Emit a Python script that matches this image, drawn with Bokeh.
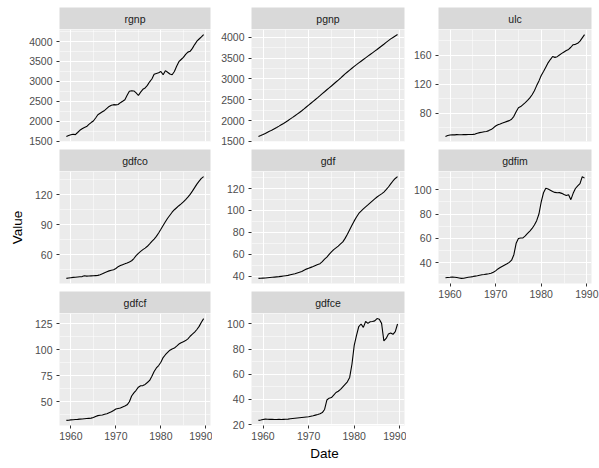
import math
from bokeh.plotting import figure
from bokeh.models import Range1d, FixedTicker, ColumnDataSource, AllLabels
from bokeh.layouts import row, column
from bokeh.embed import file_html
from bokeh.resources import INLINE
from bokeh.core.properties import value

FONT = "Liberation Sans"

# ---------------- data (half-year steps) ----------------
dates = [1959.0, 1959.5, 1960.0, 1960.5, 1961.0, 1961.5, 1962.0, 1962.5, 1963.0, 1963.5,
         1964.0, 1964.5, 1965.0, 1965.5, 1966.0, 1966.5, 1967.0, 1967.5, 1968.0, 1968.5,
         1969.0, 1969.5, 1970.0, 1970.5, 1971.0, 1971.5, 1972.0, 1972.5, 1973.0, 1973.5,
         1974.0, 1974.5, 1975.0, 1975.5, 1976.0, 1976.5, 1977.0, 1977.5, 1978.0, 1978.5,
         1979.0, 1979.5, 1980.0, 1980.5, 1981.0, 1981.5, 1982.0, 1982.5, 1983.0, 1983.5,
         1984.0, 1984.5, 1985.0, 1985.5, 1986.0, 1986.5, 1987.0, 1987.5, 1988.0, 1988.5,
         1989.0, 1989.5]

rgnp = [1617, 1640, 1659, 1672, 1662, 1715, 1770, 1810, 1840, 1865,
        1920, 1965, 2005, 2080, 2160, 2200, 2235, 2270, 2320, 2370,
        2400, 2415, 2410, 2420, 2465, 2500, 2540, 2650, 2750, 2765,
        2760, 2710, 2645, 2730, 2800, 2835, 2900, 2990, 3060, 3180,
        3200, 3215, 3250, 3165, 3270, 3230, 3185, 3165, 3250, 3380,
        3495, 3550, 3605, 3680, 3735, 3755, 3830, 3925, 4010, 4065,
        4120, 4176]

pgnp = [1620, 1642, 1665, 1692, 1720, 1747, 1775, 1805, 1835, 1867,
        1900, 1932, 1965, 2002, 2040, 2077, 2115, 2155, 2195, 2237,
        2280, 2325, 2370, 2415, 2460, 2505, 2550, 2597, 2645, 2692,
        2740, 2785, 2830, 2878, 2925, 2972, 3020, 3070, 3120, 3165,
        3210, 3255, 3300, 3342, 3385, 3425, 3465, 3505, 3545, 3585,
        3625, 3665, 3705, 3748, 3790, 3832, 3875, 3917, 3960, 3995,
        4030, 4063]

ulc = [47.8, 49.0, 49.8, 50.1, 49.9, 50.2, 50.1, 50.0, 50.2, 50.3,
       50.4, 50.5, 50.6, 51.0, 52.2, 53.0, 53.6, 54.2, 54.6, 55.8,
       57.2, 59.5, 62.2, 64.0, 65.0, 66.2, 67.5, 68.6, 69.6, 71.5,
       75.5, 82.0, 87.5, 89.0, 91.8, 94.5, 97.5, 101.0, 105.3, 111.0,
       118.0, 124.5, 132.0, 137.5, 143.5, 149.5, 154.0, 158.2, 157.0, 158.0,
       160.3, 162.5, 164.5, 166.5, 168.0, 171.0, 174.5, 175.0, 176.5, 179.5,
       184.0, 188.5]

gdfco = [36.6, 37.0, 37.3, 37.6, 37.8, 38.0, 38.2, 38.4, 39.2, 38.9,
         39.0, 39.1, 39.2, 39.4, 39.6, 40.3, 41.2, 42.3, 43.2, 44.1,
         44.8, 45.3, 46.5, 48.3, 49.4, 50.3, 51.1, 52.0, 53.0, 54.2,
         56.4, 59.3, 61.6, 63.5, 65.3, 66.8, 68.6, 71.0, 73.5, 75.8,
         78.5, 81.8, 85.5, 89.3, 93.0, 96.5, 99.5, 102.5, 105.0, 107.0,
         109.0, 110.8, 112.8, 115.0, 117.5, 120.3, 123.5, 127.0, 130.5, 133.5,
         136.2, 138.0]

gdf = [37.9, 38.0, 38.2, 38.3, 38.5, 38.7, 38.9, 39.1, 39.3, 39.5,
       39.8, 40.1, 40.4, 40.7, 41.2, 41.7, 42.2, 42.9, 43.6, 44.3,
       45.4, 46.4, 47.2, 48.0, 48.8, 49.7, 50.6, 51.4, 53.2, 55.5,
       57.3, 59.8, 62.1, 64.2, 65.8, 67.4, 69.4, 71.3, 74.5, 78.3,
       82.5, 86.5, 90.5, 94.0, 97.3, 99.5, 101.5, 103.3, 105.1, 107.0,
       108.8, 110.6, 112.3, 113.8, 115.2, 116.8, 119.0, 121.5, 124.3, 127.0,
       129.3, 131.0]

gdfim = [27.6, 27.8, 27.9, 28.1, 27.9, 27.7, 27.4, 27.0, 27.1, 27.6,
         27.9, 28.2, 28.5, 28.9, 29.2, 29.6, 30.0, 30.2, 30.5, 30.8,
         31.2, 32.0, 33.2, 34.8, 36.0, 37.0, 38.0, 39.0, 40.2, 42.0,
         46.5, 55.9, 59.8, 60.3, 60.4, 62.0, 64.0, 66.0, 68.1, 71.0,
         74.5, 80.0, 90.0, 97.5, 101.3, 100.5, 99.6, 98.6, 97.8, 97.5,
         97.6, 97.0, 96.0, 95.2, 95.9, 91.8, 97.0, 101.0, 103.2, 105.0,
         110.8, 109.5]

gdfcf = [32.0, 32.2, 32.5, 32.7, 32.9, 33.0, 33.2, 33.4, 33.6, 33.8,
         34.0, 34.2, 34.8, 35.8, 36.6, 36.9, 37.2, 37.9, 38.5, 39.4,
         40.3, 41.6, 43.0, 43.5, 44.0, 45.0, 45.8, 47.0, 50.0, 55.5,
         58.5, 61.0, 64.0, 65.3, 65.5, 66.6, 68.5, 70.5, 74.5, 79.0,
         82.5, 84.8, 88.0, 92.5, 95.2, 97.5, 99.6, 100.8, 101.6, 103.5,
         105.5, 106.8, 107.8, 108.8, 110.5, 113.0, 115.0, 117.0, 119.5, 122.5,
         126.5, 130.0]

gdfce = [23.3, 23.6, 24.0, 24.3, 24.2, 24.1, 24.2, 24.0, 24.0, 24.1,
         24.0, 24.1, 24.2, 24.3, 24.6, 24.8, 25.0, 25.2, 25.4, 25.6,
         25.8, 26.0, 26.2, 26.6, 27.0, 27.5, 28.0, 28.6, 29.5, 32.0,
         39.5, 41.0, 41.5, 43.5, 45.5, 46.5, 48.0, 50.0, 52.0, 54.0,
         57.5, 68.0, 83.0, 91.0, 98.0, 100.0, 97.3, 102.0, 100.5, 101.8,
         102.0, 102.5, 104.3, 103.8, 100.5, 86.5, 88.5, 92.0, 92.8, 91.8,
         94.0, 100.0]

series_names = ["rgnp", "pgnp", "ulc", "gdfco", "gdf", "gdfim", "gdfcf", "gdfce"]
series_values = [rgnp, pgnp, ulc, gdfco, gdf, gdfim, gdfcf, gdfce]

# tick labels (major breaks) and minor grid lines
x_ticks = [1960, 1970, 1980, 1990]
x_minor = [1955, 1965, 1975, 1985, 1995]

y_major = {
    "rgnp": [1500, 2000, 2500, 3000, 3500, 4000],
    "pgnp": [1500, 2000, 2500, 3000, 3500, 4000],
    "ulc": [80, 120, 160],
    "gdfco": [60, 90, 120],
    "gdf": [40, 60, 80, 100, 120],
    "gdfim": [40, 60, 80, 100],
    "gdfcf": [50, 75, 100, 125],
    "gdfce": [20, 40, 60, 80, 100],
}
y_minor = {
    "rgnp": [1250, 1750, 2250, 2750, 3250, 3750, 4250],
    "pgnp": [1250, 1750, 2250, 2750, 3250, 3750, 4250],
    "ulc": [60, 100, 140, 180],
    "gdfco": [45, 75, 105, 135],
    "gdf": [30, 50, 70, 90, 110, 130],
    "gdfim": [30, 50, 70, 90, 110],
    "gdfcf": [37.5, 62.5, 87.5, 112.5, 137.5],
    "gdfce": [10, 30, 50, 70, 90, 110],
}

# ---------------- styling / layout ----------------
PANEL_BG = "#EBEBEB"
STRIP_BG = "#D9D9D9"
TICK_TXT = "#4D4D4D"
TICK_COL = "#333333"
TICK_SIZE = "10.5px"
TITLE_SIZE = "13.5px"

xmin, xmax = min(dates), max(dates)
xpad = 0.05 * (xmax - xmin)
x_range = Range1d(xmin - xpad, xmax + xpad)


def strip_fig(name, width, left, right, top):
    p = figure(width=width, height=22 + top, x_range=Range1d(0, 1), y_range=Range1d(0, 1),
               x_axis_location=None, y_axis_location=None,
               output_backend="svg", toolbar_location=None,
               min_border_left=left, min_border_right=right,
               min_border_top=top, min_border_bottom=0)
    p.background_fill_color = STRIP_BG
    p.border_fill_color = None
    p.outline_line_color = None
    p.grid.visible = False
    p.text(x=[0.5], y=[0.5], text=[name], text_align="center", text_baseline="middle",
           text_font=value(FONT), text_font_size=TICK_SIZE, text_color="#1A1A1A")
    return p


def panel_fig(name, ys, width, left, right, show_x):
    lo, hi = min(ys), max(ys)
    pad = 0.05 * (hi - lo)
    bottom = 18 if show_x else 8
    height = 112 + bottom
    p = figure(width=width, height=height, x_range=x_range, y_range=Range1d(lo - pad, hi + pad),
               x_axis_location="below" if show_x else None, y_axis_location="left",
               output_backend="svg", toolbar_location=None,
               min_border_left=left, min_border_right=right,
               min_border_top=0, min_border_bottom=bottom)
    p.background_fill_color = PANEL_BG
    p.border_fill_color = None
    p.outline_line_color = None

    xt = FixedTicker(ticks=x_ticks, minor_ticks=x_minor)
    yt = FixedTicker(ticks=y_major[name], minor_ticks=y_minor[name])
    for g in p.xgrid:
        g.ticker = xt
    for g in p.ygrid:
        g.ticker = yt
    for g in list(p.xgrid) + list(p.ygrid):
        g.grid_line_color = "white"
        g.grid_line_width = 1.0
        g.minor_grid_line_color = "white"
        g.minor_grid_line_width = 0.5

    axes = list(p.yaxis) + (list(p.xaxis) if show_x else [])
    for ax in axes:
        ax.axis_label = None
        ax.axis_line_color = None
        ax.major_tick_line_color = TICK_COL
        ax.major_tick_in = 0
        ax.major_tick_out = 3
        ax.minor_tick_line_color = None
        ax.major_label_text_font = FONT
        ax.major_label_text_font_size = TICK_SIZE
        ax.major_label_text_color = TICK_TXT
        ax.major_label_policy = AllLabels()
    p.yaxis.ticker = yt
    p.yaxis.major_label_standoff = 3
    if show_x:
        p.xaxis.ticker = xt
        p.xaxis.major_label_standoff = 2

    src = ColumnDataSource(dict(x=dates, y=ys))
    p.line("x", "y", source=src, line_color="black", line_width=1.1)
    return p


data = dict(zip(series_names, series_values))

# columns: (width, border-left, border-right)
cols = [(186, 31, 2), (194, 39, 2), (193, 32, 8)]
grid_pos = [["rgnp", "gdfco", "gdfcf"], ["pgnp", "gdf", "gdfce"], ["ulc", "gdfim"]]

col_layouts = []
for (w, l, r), names in zip(cols, grid_pos):
    items = []
    for i, nm in enumerate(names):
        show_x = (i == len(names) - 1)
        items.append(strip_fig(nm, w, l, r, 7 if i == 0 else 0))
        items.append(panel_fig(nm, data[nm], w, l, r, show_x))
    col_layouts.append(column(*items))

# y-axis title
vfig = figure(width=26, height=443, x_range=Range1d(0, 1), y_range=Range1d(0, 1),
              x_axis_location=None, y_axis_location=None,
              output_backend="svg", toolbar_location=None,
              min_border_left=7, min_border_right=0, min_border_top=29, min_border_bottom=18)
vfig.outline_line_color = None
vfig.grid.visible = False
vfig.background_fill_color = None
vfig.border_fill_color = None
vfig.text(x=[0.5], y=[0.5], text=["Value"], angle=math.pi / 2, text_align="center",
          text_baseline="middle", text_font=value(FONT), text_font_size=TITLE_SIZE,
          text_color="black")

# x-axis title
dfig = figure(width=573, height=25, x_range=Range1d(0, 1), y_range=Range1d(0, 1),
              x_axis_location=None, y_axis_location=None,
              output_backend="svg", toolbar_location=None,
              min_border_left=31, min_border_right=8, min_border_top=0, min_border_bottom=0)
dfig.outline_line_color = None
dfig.grid.visible = False
dfig.background_fill_color = None
dfig.border_fill_color = None
dfig.text(x=[0.5], y=[0.61], text=["Date"], text_align="center",
          text_baseline="middle", text_font=value(FONT), text_font_size=TITLE_SIZE,
          text_color="black")

root = row(vfig, column(row(*col_layouts), dfig))

with open("out.html", "w") as f:
    f.write(file_html(root, INLINE))
